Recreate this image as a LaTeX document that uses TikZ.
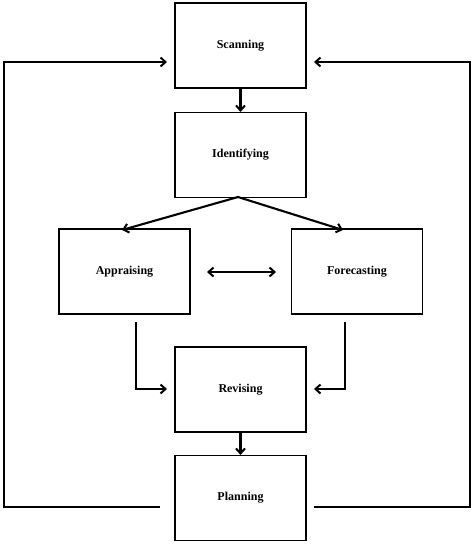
\documentclass[tikz,border=0pt]{standalone}
\usepackage{fontspec}
\setmainfont{Liberation Serif}
\usetikzlibrary{arrows.meta,calc}
\begin{document}
\begin{tikzpicture}[x=1pt,y=-1pt,
  box/.style={draw,line width=1.1pt,minimum width=131pt,minimum height=85pt,inner sep=0pt,font=\bfseries\fontsize{12}{14}\selectfont},
  tip/.style={Straight Barb[length=5pt,width=9pt,line width=2pt]},
  arr/.style={line width=2.1pt,-{Straight Barb[length=5pt,width=9pt,line width=2pt]}},
  dbl/.style={line width=2.1pt,{Straight Barb[length=5pt,width=9pt,line width=2pt]}-{Straight Barb[length=5pt,width=9pt,line width=2pt]}}]
\useasboundingbox (0,0) rectangle (474,544);
\node[box] (scan) at (240.5,45.5) {Scanning};
\node[box] (iden) at (240.5,155) {Identifying};
\node[box] (app) at (124.5,271.5) {Appraising};
\node[box] (fore) at (357,271.5) {Forecasting};
\node[box] (rev) at (240.5,389.5) {Revising};
\node[box] (plan) at (240.5,498) {Planning};
\draw[arr] (scan) -- (iden);
\draw[arr] (rev) -- (plan);
\coordinate (split) at (238,197);
\coordinate (appin) at (122,230);
\coordinate (forein) at (343,230);
\draw[arr] (split) -- (appin);
\draw[arr] (split) -- (forein);
\coordinate (dl) at (207,272);
\coordinate (dr) at (276,272);
\draw[dbl] (dl) -- (dr);
\coordinate (aout) at (136,322);
\coordinate (fout) at (345,322);
\coordinate (rl) at (167,389);
\coordinate (rr) at (314,389);
\draw[arr] (aout) |- (rl);
\draw[arr] (fout) |- (rr);
\coordinate (pl) at (160,507);
\coordinate (pr) at (314,507);
\coordinate (sl) at (167,62);
\coordinate (sr) at (314,62);
\draw[arr] (pl) -- (4,507) -- (4,62) -- (sl);
\draw[arr] (pr) -- (470,507) -- (470,62) -- (sr);
\end{tikzpicture}
\end{document}
